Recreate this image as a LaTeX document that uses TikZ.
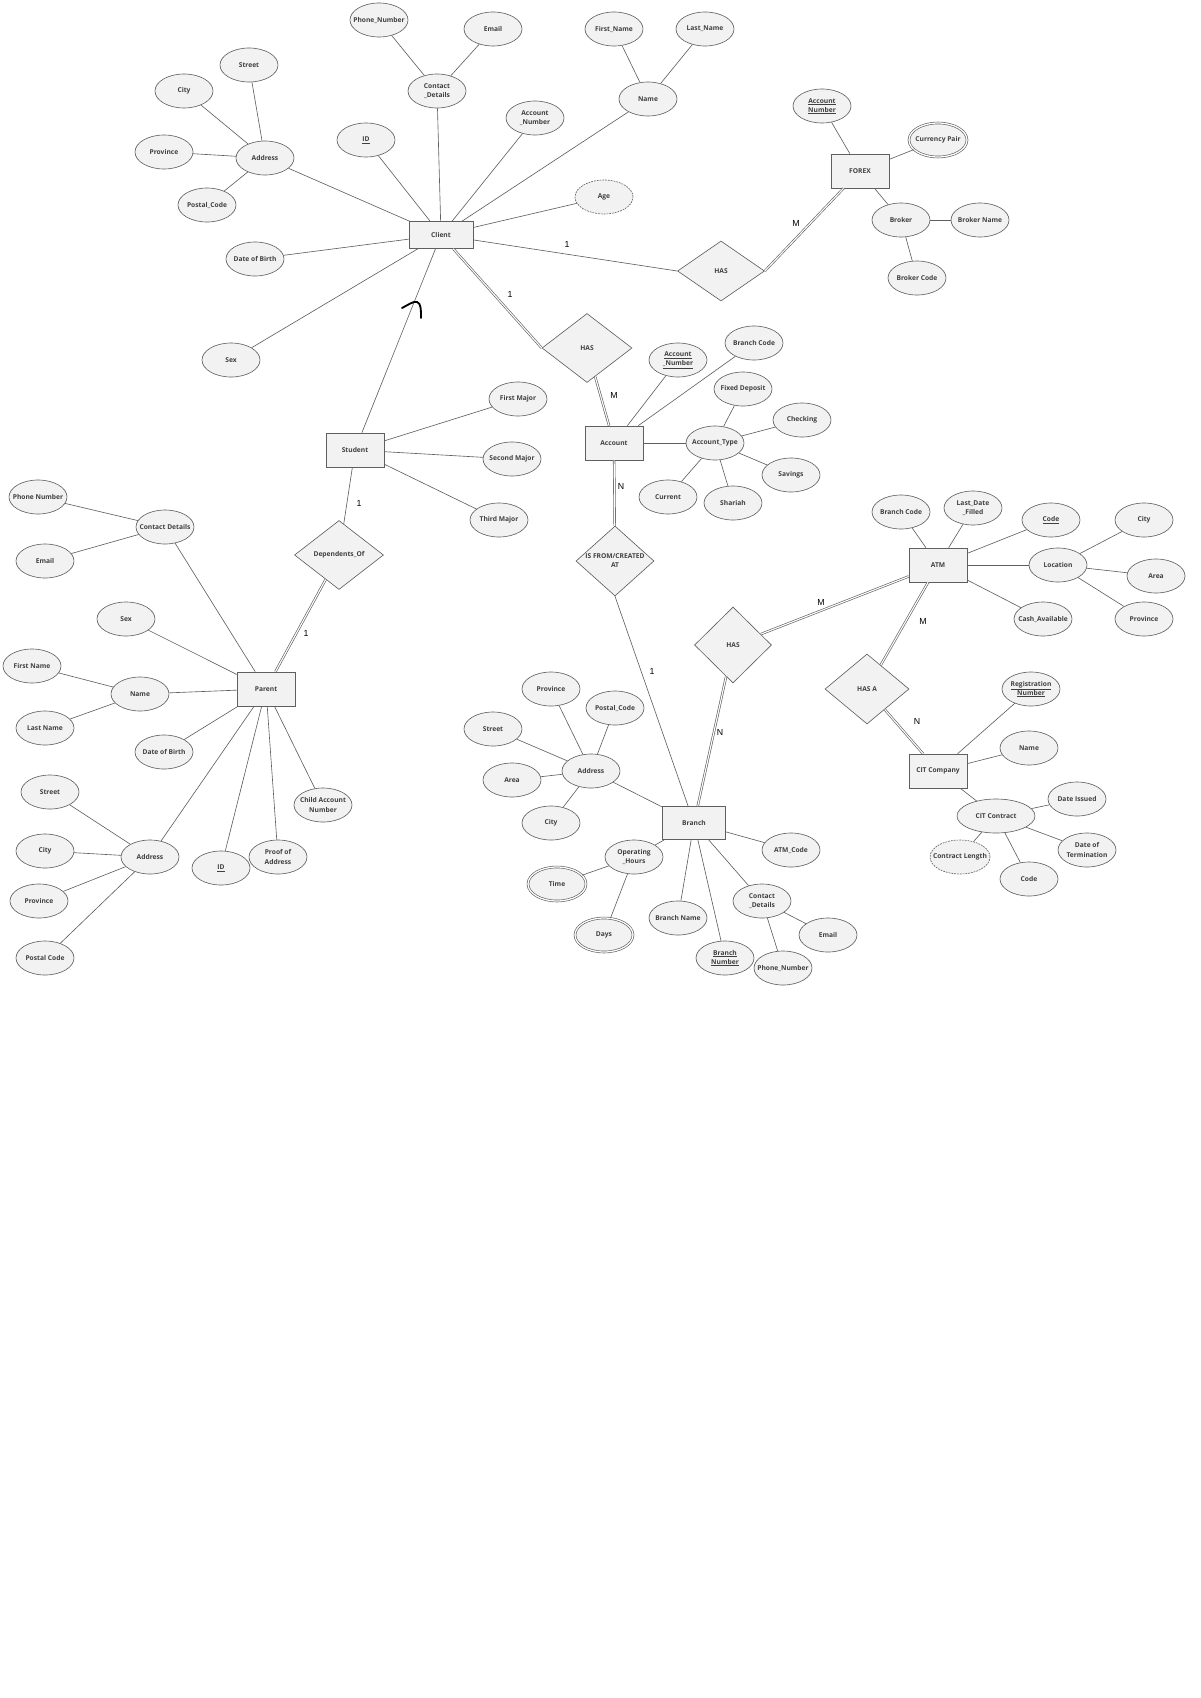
\documentclass[tikz,border=0pt]{standalone}
\usepackage{fontspec}
\setmainfont{Open Sans}
\newfontfamily\cardfamily{Liberation Sans}
\usetikzlibrary{shapes.geometric}

\definecolor{linegray}{HTML}{5F5F5F}
\definecolor{boxfill}{HTML}{F2F2F2}
\definecolor{textgray}{HTML}{404040}

\tikzset{
  box/.style={draw=linegray, fill=boxfill, line width=0.9pt, text=textgray, inner sep=0pt,
    align=center, font=\fontsize{9.5}{13}\selectfont\bfseries,
    execute at begin node={\hbox to 0pt\bgroup\hss},
    execute at end node={\hss\egroup}},
  attr/.style={box, ellipse, minimum width=2.9cm, minimum height=1.7cm},
  multi/.style={attr, double=white, double distance=1.8pt},
  derived/.style={attr, dash pattern=on 2.5pt off 1.5pt},
  ent/.style={box, rectangle, minimum width=2.9cm, minimum height=1.7cm},
  rel/.style={box, diamond},
  link/.style={draw=linegray, line width=0.9pt},
  total/.style={link, double=white, double distance=1.6pt},
  card/.style={font=\cardfamily\fontsize{12.5}{14}\selectfont, inner sep=0pt}
}

\begin{document}
\begin{tikzpicture}[x=0.05cm, y=-0.05cm]
    \useasboundingbox (0,0) rectangle (1200,1698);

    % Client and its attributes
    \node[ent, minimum width=3.2cm, minimum height=1.35cm] (cl) at (441,235) {Client};
    \node[attr] (clphone) at (379,20) {Phone\_Number};
    \node[attr] (clemail) at (493,29) {Email};
    \node[attr] (clcont) at (437,91) {Contact\\\_Details};
    \node[attr] (clfirst) at (614,29) {First\_Name};
    \node[attr] (cllast) at (705,29) {Last\_Name};
    \node[attr] (clname) at (648,99) {Name};
    \node[attr] (clacc) at (535,118) {Account\\\_Number};
    \node[attr] (clstreet) at (249,65) {Street};
    \node[attr] (clcity) at (184,91) {City};
    \node[attr] (clprov) at (164,152) {Province};
    \node[attr] (cladd) at (265,158) {Address};
    \node[attr] (clpost) at (207,205) {Postal\_Code};
    \node[attr] (clid) at (366,140) {\underline{ID}};
    \node[derived] (clage) at (604,197) {Age};
    \node[attr] (cldob) at (255,259) {Date of Birth};
    \node[attr] (clsex) at (231,360) {Sex};

    % FOREX
    \node[ent] (fx) at (860,171) {FOREX};
    \node[attr] (fxacc) at (822,106) {\underline{Account}\\\underline{Number}};
    \node[multi] (fxpair) at (938,140) {Currency Pair};
    \node[attr] (fxbrk) at (901,220) {Broker};
    \node[attr] (fxbname) at (980,220) {Broker Name};
    \node[attr] (fxbcode) at (917,278) {Broker Code};
    \node[rel, minimum width=4.35cm, minimum height=3cm] (hast) at (721,271) {HAS};

    % Account
    \node[rel, minimum width=4.5cm, minimum height=3.45cm] (hasm) at (587,348) {HAS};
    \node[ent] (acc) at (614,443) {Account};
    \node[attr] (accnum) at (678,360) {\underline{Account}\\\underline{\_Number}};
    \node[attr] (accbc) at (754,343) {Branch Code};
    \node[attr] (acctype) at (715,443) {Account\_Type};
    \node[attr] (accfd) at (743,389) {Fixed Deposit};
    \node[attr] (accchk) at (802,420) {Checking};
    \node[attr] (accsav) at (791,475) {Savings};
    \node[attr] (acccur) at (668,497) {Current};
    \node[attr] (accsha) at (733,503) {Shariah};
    \node[rel, minimum width=3.9cm, minimum height=3.5cm] (isf) at (615,561) {IS FROM/CREATED\\AT};

    % Student
    \node[ent] (stu) at (355,450) {Student};
    \node[attr] (stu1) at (518,399) {First Major};
    \node[attr] (stu2) at (512,459) {Second Major};
    \node[attr] (stu3) at (499,520) {Third Major};
    \node[rel, minimum width=4.45cm, minimum height=3.45cm] (dep) at (339,555) {Dependents\_Of};

    % Parent
    \node[ent] (par) at (266,689) {Parent};
    \node[attr] (parcont) at (165,527) {Contact Details};
    \node[attr] (parphone) at (38,497) {Phone Number};
    \node[attr] (paremail) at (45,561) {Email};
    \node[attr] (parsex) at (126,619) {Sex};
    \node[attr] (parname) at (140,694) {Name};
    \node[attr] (parfirst) at (32,666) {First Name};
    \node[attr] (parlast) at (45,728) {Last Name};
    \node[attr] (pardob) at (164,752) {Date of Birth};
    \node[attr] (parchild) at (323,805) {Child Account\\Number};
    \node[attr] (paradd) at (150,857) {Address};
    \node[attr] (parstreet) at (50,792) {Street};
    \node[attr] (parcity) at (45,851) {City};
    \node[attr] (parprov) at (39,901) {Province};
    \node[attr] (parpost) at (45,958) {Postal Code};
    \node[attr] (parid) at (221,868) {\underline{ID}};
    \node[attr] (parproof) at (278,857) {Proof of\\Address};

    % Branch
    \node[ent, minimum width=3.15cm, minimum height=1.65cm] (br) at (694,823) {Branch};
    \node[attr] (bradd) at (591,771) {Address};
    \node[attr] (brprov) at (551,689) {Province};
    \node[attr] (brpost) at (615,708) {Postal\_Code};
    \node[attr] (brstreet) at (493,729) {Street};
    \node[attr] (brarea) at (512,780) {Area};
    \node[attr] (brcity) at (551,823) {City};
    \node[attr] (bratm) at (791,850) {ATM\_Code};
    \node[attr] (brhours) at (634,857) {Operating\\\_Hours};
    \node[multi] (brtime) at (557,884) {Time};
    \node[multi] (brdays) at (604,935) {Days};
    \node[attr] (brname) at (678,918) {Branch Name};
    \node[attr] (brnum) at (725,958) {\underline{Branch}\\\underline{Number}};
    \node[attr] (brcont) at (762,901) {Contact\\\_Details};
    \node[attr] (bremail) at (828,935) {Email};
    \node[attr] (brphone) at (783,968) {Phone\_Number};
    \node[rel, minimum width=3.85cm, minimum height=3.8cm] (hasb) at (733,645) {HAS};

    % ATM
    \node[ent] (atm) at (938,565) {ATM};
    \node[attr] (atmbc) at (901,512) {Branch Code};
    \node[attr] (atmdate) at (973,508) {Last\_Date\\\_Filled};
    \node[attr] (atmcode) at (1051,520) {\underline{Code}};
    \node[attr] (atmloc) at (1058,565) {Location};
    \node[attr] (atmcity) at (1144,520) {City};
    \node[attr] (atmarea) at (1156,576) {Area};
    \node[attr] (atmprov) at (1144,619) {Province};
    \node[attr] (atmcash) at (1043,619) {Cash\_Available};
    \node[rel, minimum width=4.2cm, minimum height=3.5cm] (hasa) at (867,689) {HAS A};

    % CIT company
    \node[ent] (cit) at (938,771) {CIT Company};
    \node[attr] (citreg) at (1031,689) {\underline{Registration}\\\underline{Number}};
    \node[attr] (citname) at (1029,748) {Name};
    \node[attr, minimum width=3.9cm] (citcon) at (996,816) {CIT Contract};
    \node[attr] (citiss) at (1077,799) {Date Issued};
    \node[attr] (citterm) at (1087,850) {Date of\\Termination};
    \node[derived, minimum width=3cm] (citlen) at (960,857) {Contract Length};
    \node[attr] (citcode) at (1029,879) {Code};

    % attribute links
    \draw[link] (cl) -- (cladd);
    \draw[link] (cl) -- (clid);
    \draw[link] (cl) -- (clcont);
    \draw[link] (cl) -- (clacc);
    \draw[link] (cl) -- (clname);
    \draw[link] (cl) -- (clage);
    \draw[link] (cl) -- (cldob);
    \draw[link] (cl) -- (clsex);
    \draw[link] (clcont) -- (clphone);
    \draw[link] (clcont) -- (clemail);
    \draw[link] (clname) -- (clfirst);
    \draw[link] (clname) -- (cllast);
    \draw[link] (cladd) -- (clstreet);
    \draw[link] (cladd) -- (clcity);
    \draw[link] (cladd) -- (clprov);
    \draw[link] (cladd) -- (clpost);
    \draw[link] (fx) -- (fxacc);
    \draw[link] (fx) -- (fxpair);
    \draw[link] (fx) -- (fxbrk);
    \draw[link] (fxbrk) -- (fxbname);
    \draw[link] (fxbrk) -- (fxbcode);
    \draw[link] (acc) -- (accnum);
    \draw[link] (acc) -- (accbc);
    \draw[link] (acc) -- (acctype);
    \draw[link] (acctype) -- (accfd);
    \draw[link] (acctype) -- (accchk);
    \draw[link] (acctype) -- (accsav);
    \draw[link] (acctype) -- (accsha);
    \draw[link] (acctype) -- (acccur);
    \draw[link] (stu) -- (stu1);
    \draw[link] (stu) -- (stu2);
    \draw[link] (stu) -- (stu3);
    \draw[link] (par) -- (parcont);
    \draw[link] (par) -- (parsex);
    \draw[link] (par) -- (parname);
    \draw[link] (par) -- (pardob);
    \draw[link] (par) -- (paradd);
    \draw[link] (par) -- (parid);
    \draw[link] (par) -- (parproof);
    \draw[link] (par) -- (parchild);
    \draw[link] (parcont) -- (parphone);
    \draw[link] (parcont) -- (paremail);
    \draw[link] (parname) -- (parfirst);
    \draw[link] (parname) -- (parlast);
    \draw[link] (paradd) -- (parstreet);
    \draw[link] (paradd) -- (parcity);
    \draw[link] (paradd) -- (parprov);
    \draw[link] (paradd) -- (parpost);
    \draw[link] (br) -- (bradd);
    \draw[link] (br) -- (bratm);
    \draw[link] (br) -- (brhours);
    \draw[link] (br) -- (brname);
    \draw[link] (br) -- (brnum);
    \draw[link] (br) -- (brcont);
    \draw[link] (bradd) -- (brprov);
    \draw[link] (bradd) -- (brpost);
    \draw[link] (bradd) -- (brstreet);
    \draw[link] (bradd) -- (brarea);
    \draw[link] (bradd) -- (brcity);
    \draw[link] (brhours) -- (brtime);
    \draw[link] (brhours) -- (brdays);
    \draw[link] (brcont) -- (bremail);
    \draw[link] (brcont) -- (brphone);
    \draw[link] (atm) -- (atmbc);
    \draw[link] (atm) -- (atmdate);
    \draw[link] (atm) -- (atmcode);
    \draw[link] (atm) -- (atmloc);
    \draw[link] (atm) -- (atmcash);
    \draw[link] (atmloc) -- (atmcity);
    \draw[link] (atmloc) -- (atmarea);
    \draw[link] (atmloc) -- (atmprov);
    \draw[link] (cit) -- (citreg);
    \draw[link] (cit) -- (citname);
    \draw[link] (cit) -- (citcon);
    \draw[link] (citcon) -- (citiss);
    \draw[link] (citcon) -- (citterm);
    \draw[link] (citcon) -- (citcode);
    \draw[link] (citcon) -- (citlen);

    % relationships
    \draw[link] (cl) -- (hast.west);
    \draw[total] (hast.east) -- (fx);
    \draw[total] (cl) -- (hasm.west);
    \draw[total] (hasm) -- (acc);
    \draw[total] (acc) -- (isf);
    \draw[link] (isf.south) -- (br);
    \draw[link] (stu) -- (cl);
    \draw[link] (stu) -- (dep);
    \draw[total] (dep) -- (par);
    \draw[total] (hasb) -- (br);
    \draw[total] (hasb) -- (atm);
    \draw[total] (atm) -- (hasa);
    \draw[total] (hasa) -- (cit);

    % cardinalities
    \node[card] (k1) at (567,244) {1};
    \node[card] (k2) at (796,223) {M};
    \node[card] (k3) at (510,294) {1};
    \node[card] (k4) at (614,395) {M};
    \node[card] (k5) at (621,486) {N};
    \node[card] (k6) at (359,503) {1};
    \node[card] (k7) at (306,633) {1};
    \node[card] (k8) at (652,671) {1};
    \node[card] (k9) at (720,732) {N};
    \node[card] (k10) at (821,602) {M};
    \node[card] (k11) at (923,621) {M};
    \node[card] (k12) at (917,721) {N};

    % pen mark on the student line
    \draw[line width=2.6pt, line cap=round] (402,308) .. controls (408,305) and (413,301) .. (417,302)
        .. controls (421,303) and (421,310) .. (421,318);
\end{tikzpicture}
\end{document}
